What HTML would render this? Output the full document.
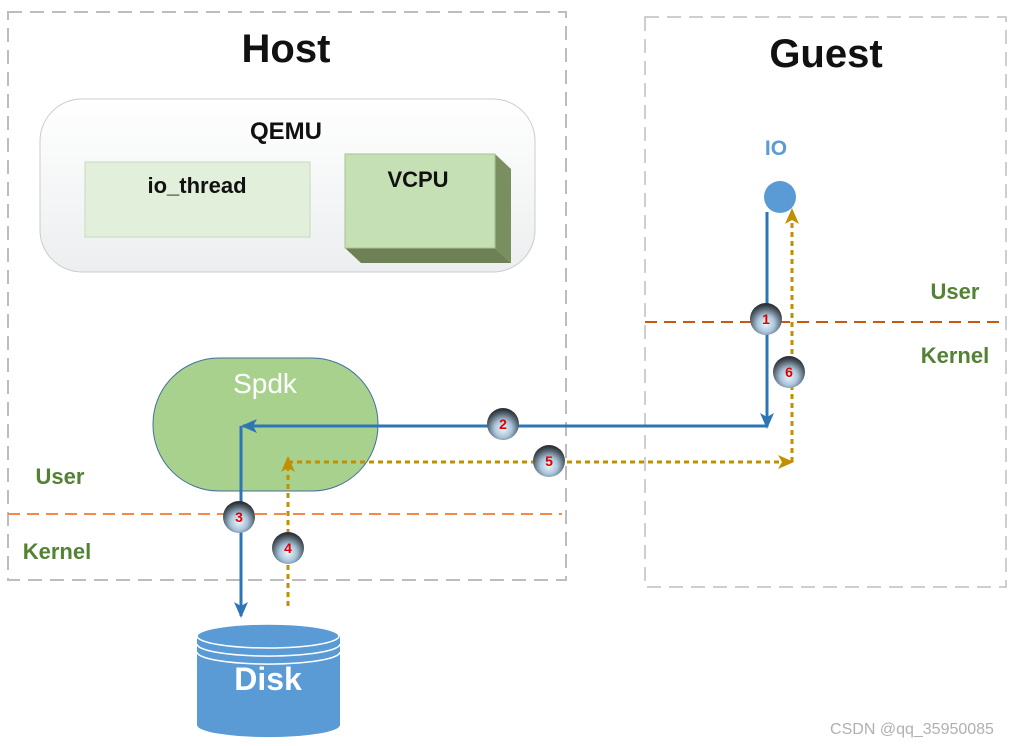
<!DOCTYPE html>
<html><head><meta charset="utf-8"><style>html,body{margin:0;padding:0;background:#fff}svg{display:block}</style></head><body>
<svg width="1015" height="746" viewBox="0 0 1015 746" xmlns="http://www.w3.org/2000/svg" font-family="Liberation Sans, sans-serif">
<defs>
<radialGradient id="ball" cx="50%" cy="65%" r="60%"><stop offset="0" stop-color="#eef6fd"/><stop offset="0.45" stop-color="#a8c4da"/><stop offset="0.8" stop-color="#56636e"/><stop offset="1" stop-color="#2c343a"/></radialGradient>
<linearGradient id="qemu" x1="0" y1="0" x2="0" y2="1"><stop offset="0" stop-color="#ffffff"/><stop offset="1" stop-color="#eceeef"/></linearGradient>
<marker id="ab" markerWidth="16" markerHeight="16" refX="14" refY="8" orient="auto" markerUnits="userSpaceOnUse"><path d="M0,1 L16,8 L0,15 L4,8z" fill="#2e75b6"/></marker>
<marker id="ao" markerWidth="16" markerHeight="16" refX="14" refY="8" orient="auto" markerUnits="userSpaceOnUse"><path d="M0,1 L16,8 L0,15 L4,8z" fill="#c09000"/></marker>
</defs>
<rect x="8" y="12" width="558" height="568" fill="none" stroke="#bdbdbd" stroke-width="2" stroke-dasharray="14,8"/>
<rect x="645" y="17" width="361" height="570" fill="none" stroke="#bdbdbd" stroke-width="1.5" stroke-dasharray="14,8"/>
<text x="286" y="62" font-size="40" font-weight="bold" text-anchor="middle" fill="#111">Host</text>
<text x="826" y="67" font-size="40" font-weight="bold" text-anchor="middle" fill="#111">Guest</text>
<rect x="40" y="99" width="495" height="173" rx="42" fill="url(#qemu)" stroke="#c8ccd0" stroke-width="1"/>
<text x="286" y="139" font-size="24" font-weight="bold" text-anchor="middle" fill="#111">QEMU</text>
<rect x="85" y="162" width="225" height="75" fill="#e2efda" stroke="#c8d8bc"/>
<text x="197" y="193" font-size="22" font-weight="bold" text-anchor="middle" fill="#111">io_thread</text>
<polygon points="495,154 511,169 511,263 495,248" fill="#7a8f60"/>
<polygon points="345,248 495,248 511,263 361,263" fill="#6e8055"/>
<rect x="345" y="154" width="150" height="94" fill="#c5e0b4" stroke="#a9c391"/>
<text x="418" y="187" font-size="22" font-weight="bold" text-anchor="middle" fill="#111">VCPU</text>
<rect x="153" y="358" width="225" height="133" rx="66" fill="#a9d18e" stroke="#41719c" stroke-width="1"/>
<text x="265" y="393" font-size="28" text-anchor="middle" fill="#fff">Spdk</text>
<circle cx="780" cy="197" r="16" fill="#5b9bd5"/>
<text x="776" y="155" font-size="21" font-weight="bold" text-anchor="middle" fill="#5b9bd5">IO</text>
<line x1="645" y1="322" x2="1006" y2="322" stroke="#c55a11" stroke-width="2" stroke-dasharray="12,7"/>
<line x1="8" y1="514" x2="562" y2="514" stroke="#f4894a" stroke-width="2" stroke-dasharray="12,7"/>
<text x="955" y="299" font-size="22" font-weight="bold" text-anchor="middle" fill="#548235">User</text>
<text x="955" y="363" font-size="22" font-weight="bold" text-anchor="middle" fill="#548235">Kernel</text>
<text x="60" y="484" font-size="22" font-weight="bold" text-anchor="middle" fill="#548235">User</text>
<text x="57" y="559" font-size="22" font-weight="bold" text-anchor="middle" fill="#548235">Kernel</text>
<path d="M197,636 L197,725 A71,12 0 0 0 340,725 L340,636" fill="#5b9bd5"/>
<ellipse cx="268" cy="636" rx="71" ry="12" fill="#5b9bd5" stroke="#fff" stroke-width="1.5"/>
<path d="M197,644 A71,12 0 0 0 340,644" fill="none" stroke="#fff" stroke-width="1.5"/>
<path d="M197,652 A71,12 0 0 0 340,652" fill="none" stroke="#fff" stroke-width="1.5"/>
<text x="268" y="690" font-size="32" font-weight="bold" text-anchor="middle" fill="#fff">Disk</text>
<line x1="767" y1="212" x2="767" y2="427" stroke="#2e75b6" stroke-width="3" marker-end="url(#ab)"/>
<line x1="767" y1="426" x2="243" y2="426" stroke="#2e75b6" stroke-width="3" marker-end="url(#ab)"/>
<line x1="241" y1="426" x2="241" y2="616" stroke="#2e75b6" stroke-width="3" marker-end="url(#ab)"/>
<g stroke="#c09000" stroke-width="3" stroke-dasharray="5,4" fill="none">
<line x1="288" y1="606" x2="288" y2="458" marker-end="url(#ao)"/>
<line x1="288" y1="462" x2="792" y2="462" marker-end="url(#ao)"/>
<line x1="792" y1="462" x2="792" y2="210" marker-end="url(#ao)"/>
</g>
<g font-size="14" font-weight="bold" fill="#e00000" text-anchor="middle">
<circle cx="766" cy="319" r="16" fill="url(#ball)"/><text x="766" y="324">1</text>
<circle cx="503" cy="424" r="16" fill="url(#ball)"/><text x="503" y="429">2</text>
<circle cx="239" cy="517" r="16" fill="url(#ball)"/><text x="239" y="522">3</text>
<circle cx="288" cy="548" r="16" fill="url(#ball)"/><text x="288" y="553">4</text>
<circle cx="549" cy="461" r="16" fill="url(#ball)"/><text x="549" y="466">5</text>
<circle cx="789" cy="372" r="16" fill="url(#ball)"/><text x="789" y="377">6</text>
</g>
<text x="912" y="734" font-size="16" text-anchor="middle" fill="#b0b0b0">CSDN @qq_35950085</text>
</svg>
</body></html>
